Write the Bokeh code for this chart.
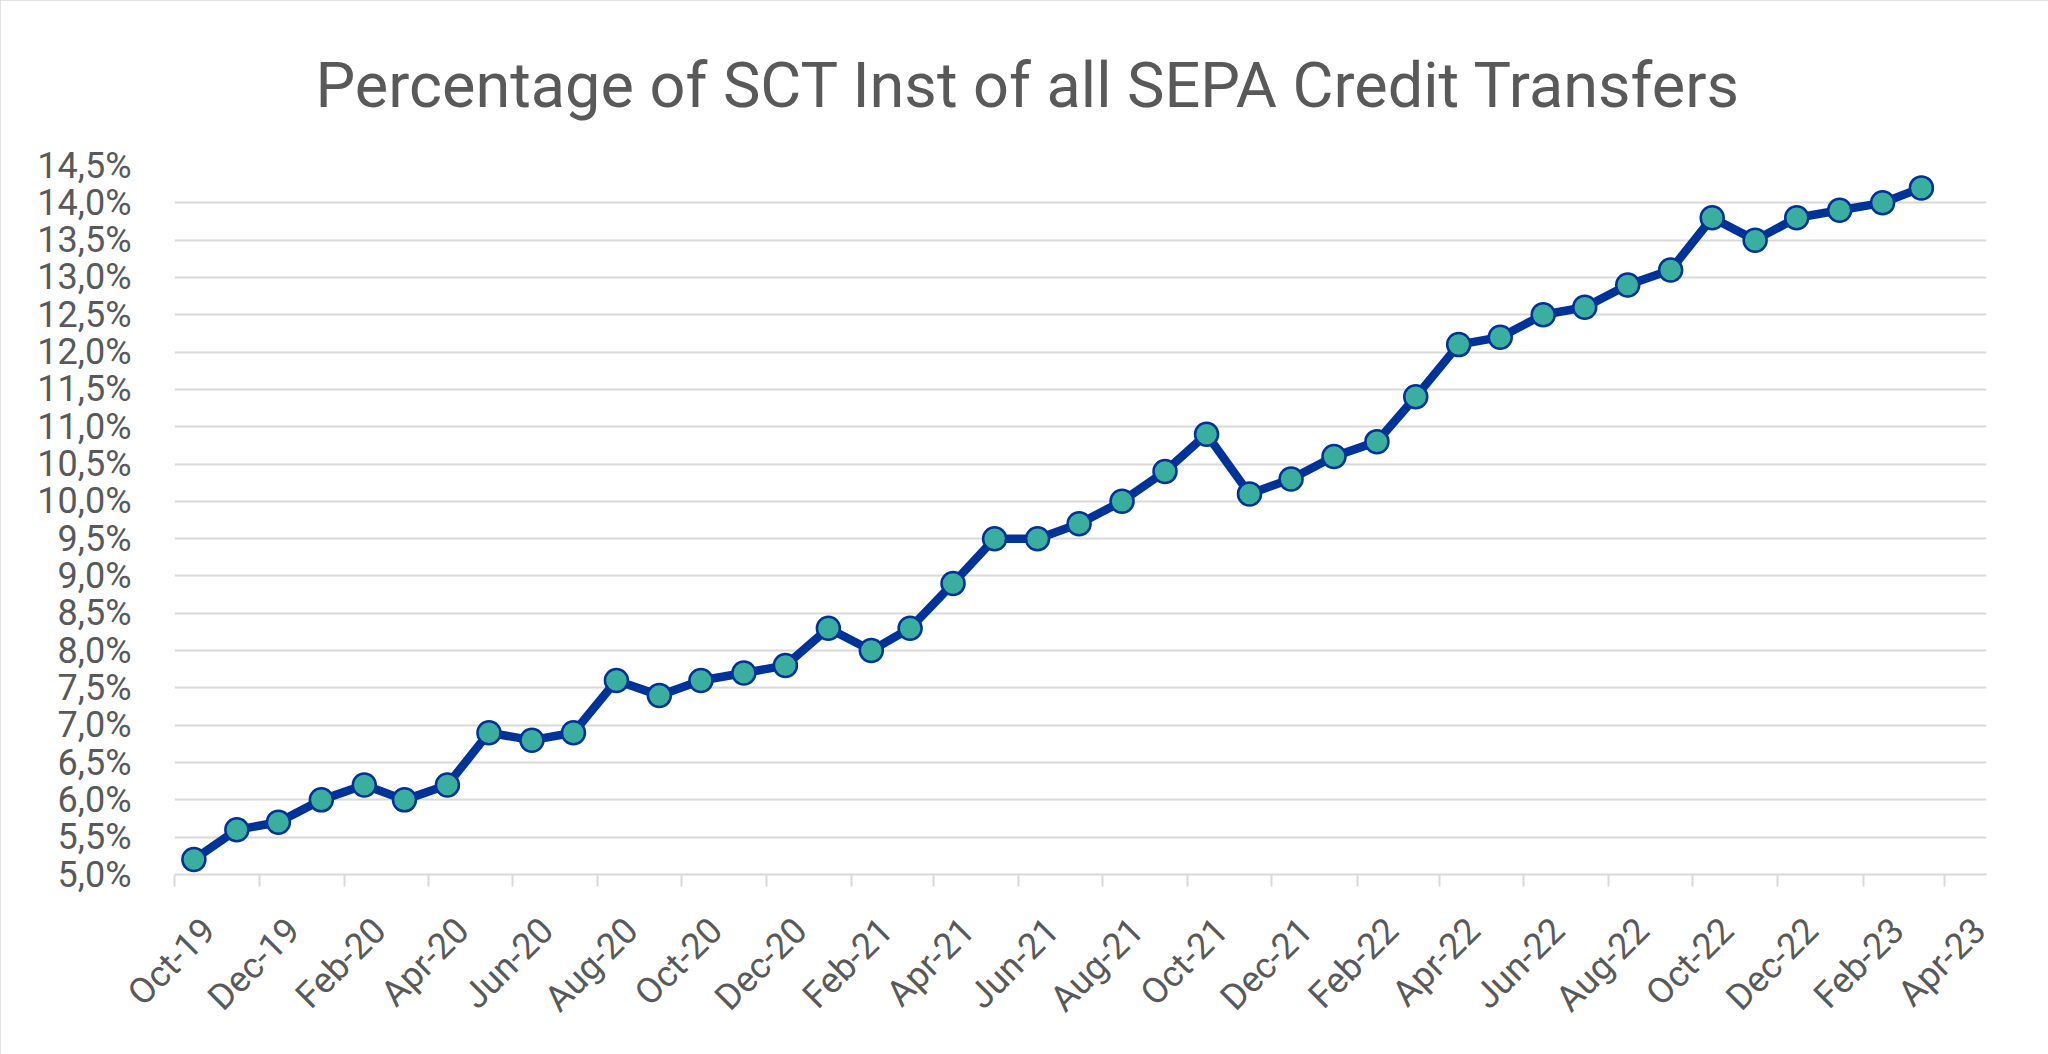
import pandas as pd
from datetime import datetime
from bokeh.plotting import figure
from bokeh.models import (Range1d, FixedTicker, DatetimeTickFormatter, DatetimeAxis,
                          CustomJSTickFormatter, ColumnDataSource)
from bokeh.embed import file_html
from bokeh.resources import INLINE

months = ["2019-10", "2019-11", "2019-12", "2020-01", "2020-02", "2020-03",
          "2020-04", "2020-05", "2020-06", "2020-07", "2020-08", "2020-09",
          "2020-10", "2020-11", "2020-12", "2021-01", "2021-02", "2021-03",
          "2021-04", "2021-05", "2021-06", "2021-07", "2021-08", "2021-09",
          "2021-10", "2021-11", "2021-12", "2022-01", "2022-02", "2022-03",
          "2022-04", "2022-05", "2022-06", "2022-07", "2022-08", "2022-09",
          "2022-10", "2022-11", "2022-12", "2023-01", "2023-02", "2023-03"]
share_pct = [5.2, 5.6, 5.7, 6.0, 6.2, 6.0,
             6.2, 6.9, 6.8, 6.9, 7.6, 7.4,
             7.6, 7.7, 7.8, 8.3, 8.0, 8.3,
             8.9, 9.5, 9.5, 9.7, 10.0, 10.4,
             10.9, 10.1, 10.3, 10.6, 10.8, 11.4,
             12.1, 12.2, 12.5, 12.6, 12.9, 13.1,
             13.8, 13.5, 13.8, 13.9, 14.0, 14.2]
x_tick_months = ["2019-10", "2019-12", "2020-02", "2020-04", "2020-06", "2020-08",
                 "2020-10", "2020-12", "2021-02", "2021-04", "2021-06", "2021-08",
                 "2021-10", "2021-12", "2022-02", "2022-04", "2022-06", "2022-08",
                 "2022-10", "2022-12", "2023-02", "2023-04"]
y_ticks = [5.0, 5.5, 6.0, 6.5, 7.0, 7.5, 8.0, 8.5, 9.0, 9.5, 10.0, 10.5, 11.0,
           11.5, 12.0, 12.5, 13.0, 13.5, 14.0, 14.5]

TITLE = "Percentage of SCT Inst of all SEPA Credit Transfers"
TEXT = "#595959"
GRID = "#d9d9d9"

dates = pd.to_datetime(months) + pd.Timedelta(days=14)
src = ColumnDataSource(dict(x=dates, y=share_pct))

p = figure(width=2048, height=1054, output_backend="svg", toolbar_location=None,
           x_axis_type="datetime",
           x_range=Range1d(datetime(2019, 10, 1), datetime(2023, 5, 1)),
           y_range=Range1d(5.0, 14.5),
           min_border_left=174, min_border_right=62,
           min_border_top=165, min_border_bottom=180,
           title=TITLE)
p.styles = {"outline": "3px solid #d9d9d9", "outline-offset": "-3px"}

p.title.text_font = "Roboto"
p.title.text_font_size = "63px"
p.title.text_font_style = "normal"
p.title.text_color = TEXT
p.title.align = "left"
p.title.offset = 141
p.title.standoff = 88

p.outline_line_color = None
p.background_fill_color = "white"
p.border_fill_color = "white"

p.line("x", "y", source=src, line_color="#00339a", line_width=8.5)
p.scatter("x", "y", source=src, size=23, fill_color="#3aafa0",
          line_color="#00339a", line_width=2.5)

# axis line and tick marks at the first of each labelled month (labels not drawn)
tick_ms = [pd.Timestamp(m + "-01").value / 1e6 for m in x_tick_months]
xa = p.xaxis[0]
xa.ticker = FixedTicker(ticks=tick_ms)
xa.formatter = DatetimeTickFormatter(days="%b-%y", months="%b-%y", years="%b-%y")
xa.axis_line_color = GRID
xa.axis_line_width = 2
xa.major_tick_line_color = GRID
xa.major_tick_line_width = 2
xa.major_tick_out = 12
xa.major_tick_in = 0
xa.minor_tick_line_color = None
xa.major_label_text_font_size = "1px"
xa.major_label_text_color = None
xa.major_label_standoff = 0

# labels, anchored a little to the right of each tick (as in the original)
label_ms = [pd.Timestamp(m + "-26").value / 1e6 for m in x_tick_months]
xl = DatetimeAxis(ticker=FixedTicker(ticks=label_ms),
                  formatter=DatetimeTickFormatter(days="%b-%y", months="%b-%y", years="%b-%y"))
xl.axis_line_color = None
xl.major_tick_line_color = None
xl.major_tick_out = 0
xl.major_tick_in = 0
xl.minor_tick_line_color = None
xl.minor_tick_out = 0
xl.major_label_orientation = 0.785398
xl.major_label_text_font = "Roboto"
xl.major_label_text_font_size = "36px"
xl.major_label_text_color = TEXT
xl.major_label_standoff = 38
p.add_layout(xl, "below")

ya = p.yaxis[0]
ya.ticker = FixedTicker(ticks=y_ticks)
ya.formatter = CustomJSTickFormatter(code="return tick.toFixed(1).replace('.', ',') + '%';")
ya.axis_line_color = None
ya.major_tick_line_color = None
ya.minor_tick_line_color = None
ya.major_label_text_font = "Roboto"
ya.major_label_text_font_size = "36px"
ya.major_label_text_color = TEXT
ya.major_label_standoff = 37

p.xgrid.grid_line_color = None
p.ygrid.grid_line_color = GRID
p.ygrid.grid_line_width = 2

open("out.html", "w").write(file_html(p, INLINE))
